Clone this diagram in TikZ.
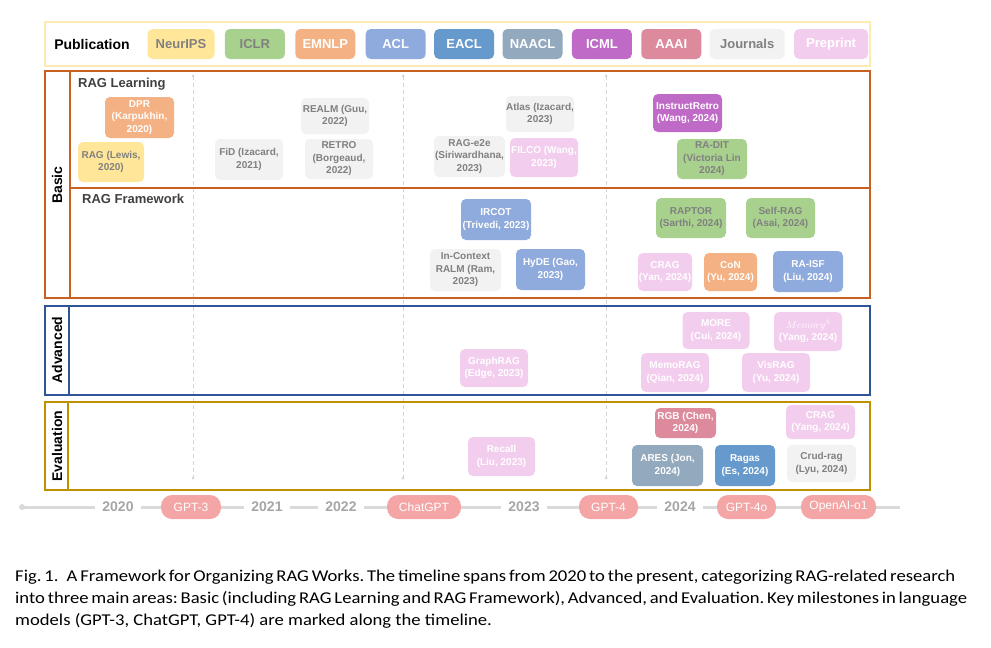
\documentclass[tikz,border=0pt]{standalone}
\usepackage{fontspec}
\setmainfont{Liberation Sans}
\newfontfamily\capfont[FakeStretch=1.13]{Carlito}
\usepackage{tikz}
\usetikzlibrary{shapes, arrows.meta, positioning, calc}

\definecolor{neuripsc}{HTML}{FFE699}
\definecolor{iclrc}{HTML}{A9D18E}
\definecolor{emnlpc}{HTML}{F4B183}
\definecolor{aclc}{HTML}{8FAADC}
\definecolor{eaclc}{HTML}{6699CC}
\definecolor{naaclc}{HTML}{93A9BE}
\definecolor{icmlc}{HTML}{BF6AC7}
\definecolor{aaaic}{HTML}{DC8A9C}
\definecolor{journalc}{HTML}{F2F2F2}
\definecolor{preprintc}{HTML}{F3CDEE}
\definecolor{greytext}{HTML}{808080}
\definecolor{darktext}{HTML}{404040}
\definecolor{basicc}{HTML}{C9601F}
\definecolor{advancedc}{HTML}{2F5597}
\definecolor{evalc}{HTML}{BF9000}
\definecolor{legendc}{HTML}{FDEBB0}
\definecolor{guidec}{HTML}{D4D4D4}
\definecolor{milec}{HTML}{F4A6A6}
\definecolor{yearc}{HTML}{A6A6A6}
\definecolor{linec}{HTML}{DADADA}

\tikzstyle{paper} = [rectangle, rounded corners=5pt, align=center, inner sep=0pt, font=\fontsize{10}{12.5}\selectfont\bfseries]
\tikzstyle{neurips} = [paper, fill=neuripsc, text=greytext]
\tikzstyle{iclr} = [paper, fill=iclrc, text=greytext]
\tikzstyle{emnlp} = [paper, fill=emnlpc, text=white]
\tikzstyle{acl} = [paper, fill=aclc, text=white]
\tikzstyle{eacl} = [paper, fill=eaclc, text=white]
\tikzstyle{naacl} = [paper, fill=naaclc, text=white]
\tikzstyle{icml} = [paper, fill=icmlc, text=white]
\tikzstyle{aaai} = [paper, fill=aaaic, text=white]
\tikzstyle{journal} = [paper, fill=journalc, text=greytext]
\tikzstyle{preprint} = [paper, fill=preprintc, text=white]
\tikzstyle{venue} = [minimum width=60, minimum height=30, font=\fontsize{13}{15}\selectfont\bfseries]
\tikzstyle{area} = [rotate=90, font=\fontsize{14}{16}\selectfont\bfseries]
\tikzstyle{subarea} = [anchor=west, text=darktext, inner sep=0pt, font=\fontsize{13}{15}\selectfont\bfseries]
\tikzstyle{guide} = [draw=guidec, line width=1pt, dash pattern=on 4pt off 3pt]
\tikzstyle{milestone} = [rectangle, rounded corners=11pt, fill=milec, text=white, minimum height=24, inner sep=0pt, font=\fontsize{12}{14}\selectfont]
\tikzstyle{year} = [fill=white, text=yearc, inner xsep=7pt, font=\fontsize{14}{16}\selectfont\bfseries]
\tikzstyle{captionline} = [anchor=base west, inner sep=0pt, font=\capfont\fontsize{16.5}{22}\selectfont\frenchspacing]

\begin{document}
\begin{tikzpicture}[x=1pt, y=-1pt]
	\useasboundingbox (0,0) rectangle (991,648);

	% guides
	\foreach \gx in {193, 403, 606} {
		\draw[guide] (\gx,76) -- (\gx,478);
		\fill[guidec] (\gx,76) circle (1.5);
		\fill[guidec] (\gx,478) circle (1.5);
	}

	% legend
	\draw[legendc, line width=2pt] (45,22) rectangle (870,66);
	\node[font=\fontsize{14}{16}\selectfont\bfseries] (pub) at (92,44) {Publication};
	\node[neurips, venue, minimum width=67] (neuripsL) at (181,44) {NeurIPS};
	\node[iclr, venue, right=10pt of neuripsL] (iclrL) {ICLR};
	\node[emnlp, venue, right=10pt of iclrL] (emnlpL) {EMNLP};
	\node[acl, venue, right=10pt of emnlpL] (aclL) {ACL};
	\node[eacl, venue, right=8pt of aclL] (eaclL) {EACL};
	\node[naacl, venue, right=8pt of eaclL] (naaclL) {NAACL};
	\node[icml, venue, right=9pt of naaclL] (icmlL) {ICML};
	\node[aaai, venue, right=9pt of icmlL] (aaaiL) {AAAI};
	\node[journal, venue, minimum width=75, right=8pt of aaaiL] (journalL) {Journals};
	\node[preprint, venue, minimum width=74, right=9pt of journalL] (preprintL) {Preprint};

	% frames
	\draw[basicc, line width=2pt] (45,71) rectangle (870,298);
	\draw[basicc, line width=2pt] (70,71) -- (70,298);
	\draw[basicc, line width=2pt] (70,188) -- (870,188);
	\draw[advancedc, line width=2pt] (45,306) rectangle (870,395);
	\draw[advancedc, line width=2pt] (69,306) -- (69,395);
	\draw[evalc, line width=2pt] (45,402) rectangle (870,490);
	\draw[evalc, line width=2pt] (68,402) -- (68,490);

	\node[area] (basic) at (57,185) {Basic};
	\node[area] (advanced) at (57,350) {Advanced};
	\node[area] (evaluation) at (57,446) {Evaluation};
	\node[subarea] (learning) at (78,84) {RAG Learning};
	\node[subarea] (framework) at (82,199) {RAG Framework};

	% RAG learning
	\node[emnlp, minimum width=69, minimum height=41] (dpr) at (139.5,117.5) {DPR\\(Karpukhin,\\2020)};
	\node[neurips, minimum width=66, minimum height=40] (rag) at (111,162) {RAG (Lewis,\\2020)};
	\node[journal, minimum width=68, minimum height=41] (fid) at (249,159.5) {FiD (Izacard,\\2021)};
	\node[journal, minimum width=68, minimum height=36] (realm) at (335,116) {REALM (Guu,\\2022)};
	\node[journal, minimum width=68, minimum height=40] (retro) at (339,159) {RETRO\\(Borgeaud,\\2022)};
	\node[journal, minimum width=68, minimum height=36] (atlas) at (540,114) {Atlas (Izacard,\\2023)};
	\node[journal, minimum width=71, minimum height=41] (rage2e) at (469.5,156.5) {RAG-e2e\\(Siriwardhana,\\2023)};
	\node[preprint, minimum width=68, minimum height=39] (filco) at (544,157.5) {FILCO (Wang,\\2023)};
	\node[icml, minimum width=69, minimum height=38] (instructretro) at (687.5,113) {InstructRetro\\(Wang, 2024)};
	\node[iclr, minimum width=70, minimum height=40] (radit) at (712,159) {RA-DIT\\(Victoria Lin\\2024)};

	% RAG framework
	\node[acl, minimum width=70, minimum height=41] (ircot) at (496,219.5) {IRCOT\\(Trivedi, 2023)};
	\node[journal, minimum width=71, minimum height=42] (icralm) at (465.5,270) {In-Context\\RALM (Ram,\\2023)};
	\node[acl, minimum width=69, minimum height=41] (hyde) at (550.5,269.5) {HyDE (Gao,\\2023)};
	\node[iclr, minimum width=70, minimum height=40] (raptor) at (691,218) {RAPTOR\\(Sarthi, 2024)};
	\node[iclr, minimum width=69, minimum height=40] (selfrag) at (780.5,218) {Self-RAG\\(Asai, 2024)};
	\node[preprint, minimum width=54, minimum height=38] (crag) at (665,272) {CRAG\\(Yan, 2024)};
	\node[emnlp, minimum width=53, minimum height=38] (con) at (730.5,272) {CoN\\(Yu, 2024)};
	\node[acl, minimum width=70, minimum height=41] (raisf) at (808,271.5) {RA-ISF\\(Liu, 2024)};

	% advanced
	\node[preprint, minimum width=68, minimum height=38] (graphrag) at (494,368) {GraphRAG\\(Edge, 2023)};
	\node[preprint, minimum width=67, minimum height=37] (more) at (716,330.5) {MORE\\(Cui, 2024)};
	\node[preprint, minimum width=68, minimum height=39] (memory) at (808,331.5) {$Memory^3$\\(Yang, 2024)};
	\node[preprint, minimum width=68, minimum height=39] (memorag) at (675,372.5) {MemoRAG\\(Qian, 2024)};
	\node[preprint, minimum width=68, minimum height=39] (visrag) at (776,372.5) {VisRAG\\(Yu, 2024)};

	% evaluation
	\node[preprint, minimum width=67, minimum height=39] (recall) at (501.5,456.5) {Recall\\(Liu, 2023)};
	\node[aaai, minimum width=61, minimum height=30] (rgb) at (685.5,423) {RGB (Chen,\\2024)};
	\node[preprint, minimum width=69, minimum height=34] (cragyang) at (820.5,422) {CRAG\\(Yang, 2024)};
	\node[naacl, minimum width=71, minimum height=41] (ares) at (667.5,465.5) {ARES (Jon,\\2024)};
	\node[eacl, minimum width=60, minimum height=41] (ragas) at (745,465.5) {Ragas\\(Es, 2024)};
	\node[journal, minimum width=69, minimum height=37] (crudrag) at (821.5,463.5) {Crud-rag\\(Lyu, 2024)};

	% timeline
	\coordinate (tstart) at (22,507);
	\coordinate (tend) at (900,507);
	\draw[linec, line width=3pt] (tstart) -- (tend);
	\fill[linec] (tstart) circle (3);
	\node[year] (y2020) at (118,507) {2020};
	\node[year] (y2021) at (267,507) {2021};
	\node[year] (y2022) at (341,507) {2022};
	\node[year] (y2023) at (524,507) {2023};
	\node[year] (y2024) at (680,507) {2024};
	\node[milestone, minimum width=60] (gpt3) at (191,507) {GPT-3};
	\node[milestone, minimum width=74] (chatgpt) at (424,507) {ChatGPT};
	\node[milestone, minimum width=59] (gpt4) at (608.5,507) {GPT-4};
	\node[milestone, minimum width=59] (gpt4o) at (746.5,507) {GPT-4o};
	\node[milestone, minimum width=75] (o1) at (838.5,507) {OpenAI-o1};

	% caption
	\node[captionline] (cap1) at (15,581)
		{\makebox[940pt][s]{Fig.~1.\enskip A Framework for Organizing RAG Works. The timeline spans from 2020 to the present, categorizing RAG-related research}};
	\node[captionline] (cap2) at (15,603)
		{\makebox[940pt][s]{into three main areas: Basic (including RAG Learning and RAG Framework), Advanced, and Evaluation. Key milestones in language}};
	\node[captionline] (cap3) at (15,625)
		{models (GPT-3, ChatGPT, GPT-4) are marked along the timeline.};
\end{tikzpicture}
\end{document}
